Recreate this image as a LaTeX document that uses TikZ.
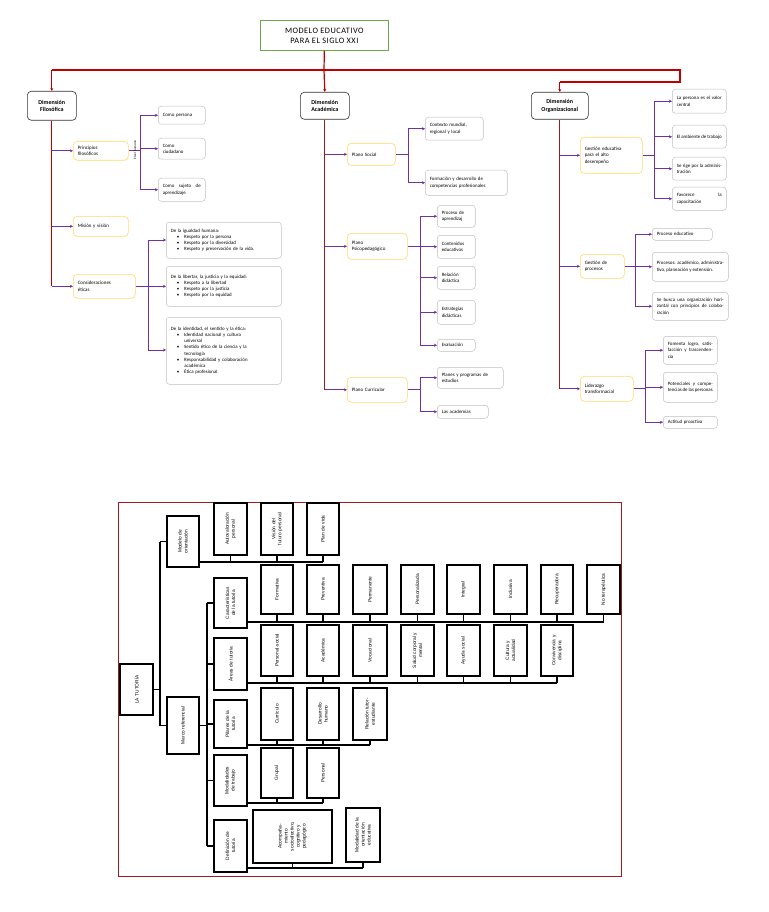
\documentclass[tikz,border=0pt]{standalone}
\usepackage{fontspec}
\setmainfont{Carlito}
\newfontfamily\arialf{Liberation Sans}
\usetikzlibrary{arrows.meta}
\definecolor{purp}{HTML}{7030A0}
\definecolor{redd}{HTML}{C00000}
\definecolor{dred}{HTML}{9B1C1C}
\definecolor{gbox}{HTML}{6AA84F}
\definecolor{ybox}{HTML}{FFD966}
\definecolor{gry}{HTML}{BFBFBF}
\newcommand\tbox[7]{\node[#1,anchor=north west,minimum width={(#5-#3)*1pt},minimum height={(#6-#4)*1pt},text width={(#5-#3-9)*1pt}] (#2) at (#3,#4) {#7};}
\newcommand\rbox[6]{\node[bb,rotate=90,minimum width={(#5-#3)*1pt},minimum height={(#4-#2)*1pt},text width={(#5-#3-4)*1pt}] (#1) at ({(#2+#4)/2},{(#3+#5)/2}) {#6};}
\newcommand\bl{\hspace*{6pt}\textbullet\hspace{5pt}}
\begin{document}
\begin{tikzpicture}[x=1pt,y=-1pt,
  dim/.style={draw=black!80,rounded corners=4pt,line width=0.6pt,inner sep=2pt,align=center,font=\fontsize{6}{7.5}\selectfont\bfseries},
  yb/.style={draw=ybox,rounded corners=4pt,line width=0.6pt,inner xsep=4.5pt,inner ysep=2pt,align=left,font=\fontsize{5}{6.4}\selectfont},
  gb/.style={draw=gry,rounded corners=3pt,line width=0.5pt,inner xsep=4.5pt,inner ysep=1.5pt,align=justify,font=\fontsize{4.9}{6.2}\selectfont},
  parr/.style={draw=purp,line width=0.9pt,-{Stealth[length=3pt,width=3pt]}},
  pl/.style={draw=purp,line width=0.9pt},
  rl/.style={draw=redd,line width=1.2pt},
  drl/.style={draw=dred,line width=1pt},
  bb/.style={draw=black,line width=1.1pt,inner sep=1pt,align=center,font=\arialf\fontsize{4.8}{6}\selectfont},
  bl/.style={draw=black,line width=1.1pt}]
\useasboundingbox (0,0) rectangle (768,912);
% ---------- top ----------
\node[draw=gbox,line width=0.7pt,align=center,anchor=north west,minimum width=128pt,minimum height=30pt,font=\fontsize{8.3}{10}\selectfont\addfontfeatures{LetterSpace=6}] (title) at (260,20) {MODELO EDUCATIVO\\PARA EL SIGLO XXI};
\tbox{dim}{df}{27}{91}{76}{120}{Dimensión\\Filosófica}
\tbox{dim}{da}{300}{92}{349}{119}{Dimensión\\Académica}
\tbox{dim}{do}{531}{92}{588}{119}{Dimensión\\Organizacional}
\coordinate (t) at (324,70);
\coordinate (tr) at (680,70);
\coordinate (tr2) at (680,82);
\draw[rl] (title.south) -- (t);
\draw[rl] (df.north |- t) -- (tr) -- (tr2) -- (do.north |- tr2);
\draw[rl,-{Stealth[length=3pt,width=3pt]}] (df.north |- t) -- (df.north);
\draw[rl,-{Stealth[length=3pt,width=3pt]}] (t) -- (da.north);
\draw[rl,-{Stealth[length=3pt,width=3pt]}] (do.north |- tr2) -- (do.north);
% Filosofica
\tbox{yb}{pf}{73}{141}{128}{160}{Principios\\filosóficos}
\tbox{yb}{mv}{73}{216}{128}{236}{Misión y visión}
\tbox{yb}{ce}{73}{274}{135}{298}{Consideraciones\\éticas}
\tbox{gb,align=left}{cp}{158}{106}{205}{124}{Como persona}
\tbox{gb,align=left}{cc}{158}{138}{205}{159}{Como\\ciudadano}
\tbox{gb}{cs}{158}{178}{205}{201}{Como sujeto de aprendizaje}
\tbox{gb,align=left}{ig}{166}{222}{281}{258}{De la igualdad humana:\\\bl Respeto por la persona\\\bl Respeto por la diversidad\\\bl Respeto y preservación de la vida.}
\tbox{gb,align=left}{li}{166}{266}{281}{306}{De la libertar, la justicia y la equidad:\\\bl Respeto a la libertad\\\bl Respeto por la justicia\\\bl Respeto por la equidad}
\tbox{gb,align=left}{id}{166}{317}{281}{384}{De la identidad, el sentido y la ética:\\\bl Identidad nacional y cultura\\\hspace*{13.5pt}universal\\\bl Sentido ético de la ciencia y la\\\hspace*{13.5pt}tecnología\\\bl Responsabilidad y colaboración\\\hspace*{13.5pt}académica\\\bl Ética profesional}
\draw[rl] (df.south) -- (df.south |- ce.west);
\foreach \n in {pf,mv,ce} \draw[parr] (df.south |- \n.west) -- (\n.west);
\draw[pl] (pf.east) -- ++(12,0) coordinate (j1);
\foreach \n in {cp,cc,cs} \draw[parr] (j1) |- (\n.west);
\node[rotate=90,font=\fontsize{3.3}{4}\selectfont,inner sep=0] (eh) at (135,150) {El ser humano};
\draw[pl] (ce.east) -- ++(13,0) coordinate (j2);
\draw[parr] (j2) |- (ig.west |- 0,240);
\draw[parr] (j2) -- (li.west |- j2);
\draw[parr] (j2) |- (id.west |- 0,350);
% Academica
\tbox{yb}{ps}{347}{143}{395}{165}{Plano Social}
\tbox{yb}{pp}{347}{233}{407}{259}{Plano\\Psicopedagógico}
\tbox{yb}{pc}{347}{377}{407}{402}{Plano Curricular}
\tbox{gb,align=left}{cm}{425}{117}{483}{140}{Contexto mundial,\\regional y local}
\tbox{gb,align=left}{fd}{425}{170}{507}{195}{Formación y desarrollo de\\competencias profesionales}
\tbox{gb,align=left}{pa}{437}{205}{475}{227}{Proceso de\\aprendizaj}
\tbox{gb,align=left}{ct}{437}{235}{475}{258}{Contenidos\\educativos}
\tbox{gb,align=left}{rd}{437}{266}{475}{289}{Relación\\didáctica}
\tbox{gb,align=left}{ed}{437}{300}{475}{324}{Estrategias\\didácticas}
\tbox{gb,align=left}{ev}{437}{339}{475}{351}{Evaluación}
\tbox{gb,align=left}{pe}{437}{367}{503}{388}{Planes y programas de\\estudios}
\tbox{gb,align=left}{ac}{437}{405}{488}{418}{Las academias}
\draw[drl] (da.south) -- (da.south |- pc.west);
\foreach \n in {ps,pp,pc} \draw[parr] (da.south |- \n.west) -- (\n.west);
\draw[pl] (ps.east) -- ++(13,0) coordinate (j3);
\foreach \n in {cm,fd} \draw[parr] (j3) |- (\n.west);
\draw[pl] (pp.east) -- ++(13,0) coordinate (j4);
\foreach \n in {pa,ct,rd,ed,ev} \draw[parr] (j4) |- (\n.west);
\draw[pl] (pc.east) -- ++(13,0) coordinate (j5);
\foreach \n in {pe,ac} \draw[parr] (j5) |- (\n.west);
% Organizacional
\tbox{yb}{ge}{580}{137}{642}{173}{Gestión educativa\\para el alto\\desempeño}
\tbox{yb}{gp}{580}{254}{624}{278}{Gestión de\\procesos}
\tbox{yb}{lt}{580}{376}{633}{401}{Liderazgo\\transformacial}
\tbox{gb}{o1}{672}{89}{726}{113}{La persona es el valor central}
\tbox{gb}{o2}{672}{125}{726}{148}{El ambiente de trabajo}
\tbox{gb}{o3}{672}{157}{726}{180}{Se rige por la administración}
\tbox{gb}{o4}{672}{187}{726}{210}{Favorece la capacitación}
\tbox{gb,align=left}{o5}{652}{228}{712}{240}{Proceso educativo}
\tbox{gb}{o6}{652}{252}{728}{281}{Procesos: académico, administrativo, planeación y extensión.}
\tbox{gb}{o7}{652}{292}{728}{320}{Se busca una organización horizontal con principios de colaboración}
\tbox{gb}{o8}{663}{336}{717}{364}{Fomenta logro, satisfacción y trascendencia}
\tbox{gb}{o9}{663}{372}{717}{402}{Potenciales y competencias de las personas}
\tbox{gb,align=left}{o10}{663}{416}{717}{428}{Actitud proactiva}
\draw[drl] (do.south) -- (do.south |- lt.west);
\foreach \n in {ge,gp,lt} \draw[parr] (do.south |- \n.west) -- (\n.west);
\draw[pl] (ge.east) -- ++(12,0) coordinate (j6);
\foreach \n in {o1,o2,o3,o4} \draw[parr] (j6) |- (\n.west);
\draw[pl] (gp.east) -- ++(11,0) coordinate (j7);
\foreach \n in {o5,o6,o7} \draw[parr] (j7) |- (\n.west);
\draw[pl] (lt.east) -- ++(12,0) coordinate (j8);
\foreach \n in {o8,o9,o10} \draw[parr] (j8) |- (\n.west);
% ---------- bottom ----------
\draw[draw=dred,line width=0.8pt] (118,502) rectangle (621,876);
\rbox{lat}{120}{664}{153}{715}{LA TUTORÍA}
\rbox{mo}{167}{516}{199}{567}{Modelo de\\orientación}
\rbox{mr}{167}{697}{199}{754}{Marco referencial}
\rbox{a1}{214}{503}{247}{555}{Autovaloración\\personal}
\rbox{a2}{261}{503}{293}{555}{Visión del\\futuro personal}
\rbox{a3}{307}{503}{339}{555}{Plan de vida}
\rbox{k1}{214}{578}{247}{628}{Características\\de la tutoría}
\rbox{k2}{214}{638}{247}{690}{Áreas de tutoría}
\rbox{k3}{214}{700}{247}{748}{Pilares de la\\tutoría}
\rbox{k4}{214}{755}{247}{806}{Modalidades\\de trabajo}
\rbox{k5}{214}{820}{247}{872}{Definición de\\tutoría}
\rbox{b1}{261}{565}{293}{614}{Formativa}
\rbox{b2}{307}{565}{339}{614}{Preventiva}
\rbox{b3}{353}{565}{387}{614}{Permanente}
\rbox{b4}{401}{565}{434}{614}{Personalizada}
\rbox{b5}{447}{565}{480}{614}{Integral}
\rbox{b6}{494}{565}{527}{614}{Inclusiva}
\rbox{b7}{541}{565}{573}{614}{Recuperadora}
\rbox{b8}{587}{565}{620}{614}{No terapéutica}
\rbox{c1}{261}{625}{293}{676}{Personal-social}
\rbox{c2}{307}{625}{339}{676}{Académica}
\rbox{c3}{353}{625}{387}{676}{Vocacional}
\rbox{c4}{401}{625}{434}{676}{Salud corporal y\\mental}
\rbox{c5}{447}{625}{480}{676}{Ayuda social}
\rbox{c6}{494}{625}{527}{676}{Cultura y\\actualidad}
\rbox{c7}{541}{625}{573}{676}{Convivencia y\\disciplina}
\rbox{d1}{261}{688}{293}{740}{Currículo}
\rbox{d2}{307}{688}{339}{740}{Desarrollo\\humano}
\rbox{d3}{353}{688}{387}{740}{Relación tutor-\\estudiante}
\rbox{e1}{261}{748}{293}{798}{Grupal}
\rbox{e2}{307}{748}{339}{798}{Personal}
\rbox{f1}{253}{810}{332}{863}{Acompaña-\\miento\\socioafectivo,\\cognitivo y\\pedagógico}
\rbox{f2}{346}{808}{380}{862}{Modalidad de la\\orientación\\educativa}
% connectors
\coordinate (v0) at (160,0);
\draw[bl] (lat.south) -- (v0 |- lat.south);
\draw[bl] (v0 |- mo.center) -- (v0 |- mr.center);
\draw[bl] (v0 |- mo.center) -- (mo.north);
\draw[bl] (v0 |- mr.center) -- (mr.north);
\coordinate (v1) at (207,0);
\draw[bl] (mr.south) -- (v1 |- mr.south);
\draw[bl] (v1 |- k1.center) -- (v1 |- k5.center);
\foreach \n in {k1,k2,k3,k4,k5} \draw[bl] (v1 |- \n.center) -- (\n.north);
\coordinate (h0) at (0,562);
\draw[bl] (mo.south |- h0) -- (a3.west |- h0);
\foreach \n in {a1,a2,a3} \draw[bl] (\n.west) -- (\n.west |- h0);
\coordinate (h1) at (0,622);
\draw[bl] (k1.south |- h1) -- (b8.west |- h1);
\foreach \n in {b1,b2,b3,b4,b5,b6,b7,b8} \draw[bl] (\n.west) -- (\n.west |- h1);
\coordinate (h2) at (0,683);
\draw[bl] (k2.south |- h2) -- (c7.west |- h2);
\foreach \n in {c1,c2,c3,c4,c5,c6,c7} \draw[bl] (\n.west) -- (\n.west |- h2);
\coordinate (h3) at (0,745);
\draw[bl] (k3.south |- h3) -- (d3.west |- h3);
\foreach \n in {d1,d2,d3} \draw[bl] (\n.west) -- (\n.west |- h3);
\coordinate (h4) at (0,803);
\draw[bl] (k4.south |- h4) -- (e2.west |- h4);
\foreach \n in {e1,e2} \draw[bl] (\n.west) -- (\n.west |- h4);
\coordinate (h5) at (0,868);
\draw[bl] (k5.south |- h5) -- (f2.west |- h5);
\foreach \n in {f1,f2} \draw[bl] (\n.west) -- (\n.west |- h5);
\end{tikzpicture}
\end{document}
